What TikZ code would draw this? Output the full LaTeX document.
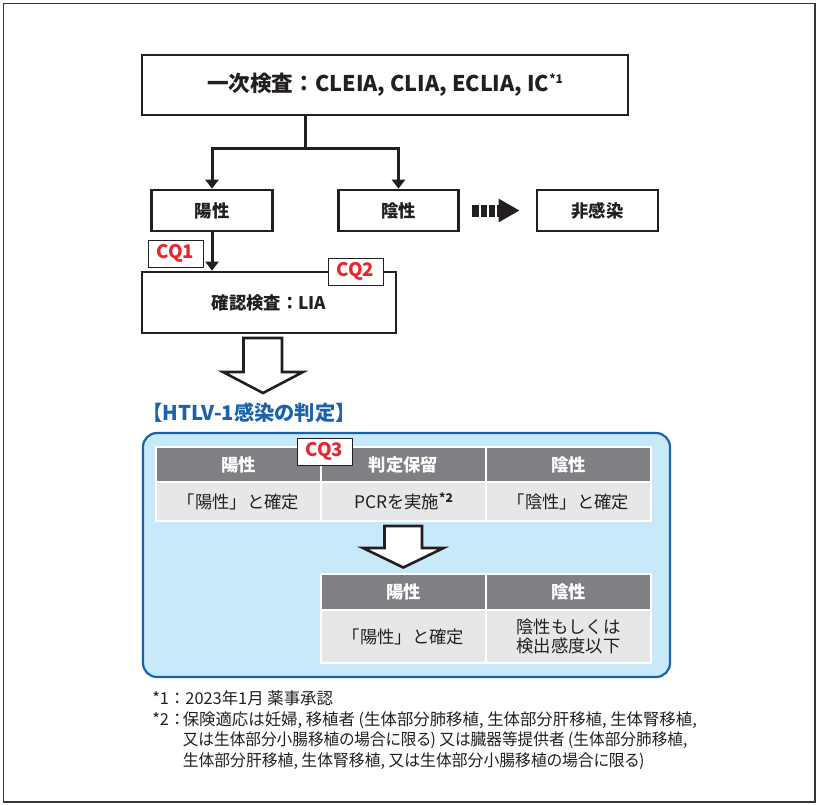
\documentclass[tikz,border=0pt]{standalone}
\usepackage{fontspec}
\setmainfont{Noto Sans CJK JP}
\newfontfamily\jpprop[RawFeature=+palt]{Noto Sans CJK JP}
\usetikzlibrary{arrows.meta}
\definecolor{cqred}{HTML}{E8272D}
\definecolor{ttlblue}{HTML}{1B62AE}
\definecolor{pnlfill}{HTML}{C7E9F9}
\definecolor{hdr}{HTML}{7E8083}
\definecolor{bodyc}{HTML}{E6E7E8}
\definecolor{txt}{HTML}{231F20}
\newdimen\px \px=0.75pt
\newcommand{\supmark}[1]{\raisebox{0.38em}{\fontsize{9}{9}\selectfont\bfseries #1}}
\begin{document}
\begin{tikzpicture}[x=0.75pt,y=-0.75pt,
  box/.style={draw=txt, line width=2.6\px, fill=white, inner sep=0pt, text=txt,
    font=\fontsize{13}{15}\selectfont\bfseries},
  cq/.style={draw=txt, line width=1\px, fill=white, minimum width=55\px, minimum height=27\px,
    inner sep=0pt, text=cqred, font=\fontsize{14}{16}\selectfont\bfseries},
  conn/.style={line width=3\px, draw=txt, -{Triangle[length=6.75pt,width=9.75pt]}},
  dasharrow/.style={line width=12\px, draw=txt, dash pattern=on 4.9pt off 1.3pt,
    -{Triangle[length=15.75pt,width=16.5pt]}},
  hollow/.style={draw=txt, line width=2.6\px, fill=white, line join=miter},
  cellh/.style={fill=hdr, draw=white, line width=2\px, minimum width=165\px, inner sep=0pt,
    text=white, font=\fontsize{13}{15}\selectfont\bfseries},
  cellb/.style={fill=bodyc, draw=white, line width=2\px, minimum width=165\px, inner sep=0pt,
    text=txt, font=\fontsize{13}{15}\selectfont, align=center},
  fn/.style={inner sep=0pt, text=txt, font=\fontsize{12.3}{14}\selectfont},
  fnp/.style={inner sep=0pt, text=txt, font=\jpprop\fontsize{12.3}{14}\selectfont}
]
\useasboundingbox (0,0) rectangle (821,804);
% outer frame
\draw[line width=1.4\px, draw=txt!90] (3.5,3.5) rectangle (815,802);

% top part
\node[box, minimum width=486\px, minimum height=60\px, font=\fontsize{16.2}{18}\selectfont\bfseries]
  (top) at (385,85) {一次検査：CLEIA, CLIA, ECLIA, IC\supmark{*1}};
\node[box, minimum width=121\px, minimum height=41\px] (pos) at (212,210.5) {陽性};
\node[box, minimum width=120\px, minimum height=41\px] (neg) at (398.5,210.5) {陰性};
\node[box, minimum width=121\px, minimum height=41\px] (non) at (597.5,210.5) {非感染};
\node[box, minimum width=254\px, minimum height=61\px] (kak) at (269,302.5) {確認検査：LIA};

\coordinate (j) at (305.5,148);
\draw[line width=3\px, draw=txt] (j |- top.south) -- (j);
\draw[conn] (j) -| (pos.north);
\draw[conn] (j) -| (neg.north);
\draw[conn] (pos.south) -- (pos.south |- kak.north);
\draw[dasharrow, shorten <=12.5\px, shorten >=16\px] (neg.east) -- (non.west);

\node[cq] (cq1) at (175.5,253.5) {CQ1};
\node[cq] (cq2) at (355.5,271.5) {CQ2};

% hollow arrow 1
\draw[hollow] (243.5,338) -- (282,338) -- (282,372) -- (303,372) -- (263,393)
  -- (223,372) -- (243.5,372) -- cycle;

% title
\node[anchor=west, inner sep=0pt, text=ttlblue, font=\fontsize{15.2}{17}\selectfont\bfseries]
  (ttl) at (142,413) {【HTLV-1感染の判定】};

% panel
\draw[draw=ttlblue, line width=2.2\px, fill=pnlfill, rounded corners=14\px] (143,433) rectangle (670,677);

% table 1
\node[cellh, minimum height=35\px] (h11) at (238.5,464.5) {陽性};
\node[cellh, minimum height=35\px] (h12) at (403.5,464.5) {判定保留};
\node[cellh, minimum height=35\px] (h13) at (568.5,464.5) {陰性};
\node[cellb, minimum height=39\px] (b11) at (238.5,501.5) {「陽性」と確定};
\node[cellb, minimum height=39\px] (b12) at (403.5,501.5) {PCRを実施\supmark{*2}};
\node[cellb, minimum height=39\px] (b13) at (568.5,501.5) {「陰性」と確定};
\node[cq] (cq3) at (324.5,451.5) {CQ3};

% hollow arrow 2
\draw[hollow] (384.5,526) -- (422,526) -- (422,548) -- (443.5,548) -- (403.3,567.5)
  -- (363,548) -- (384.5,548) -- cycle;

% table 2
\node[cellh, minimum height=36\px] (h21) at (403.5,592) {陽性};
\node[cellh, minimum height=36\px] (h22) at (568.5,592) {陰性};
\node[cellb, minimum height=53\px] (b21) at (403.5,636.5) {「陽性」と確定};
\node[cellb, minimum height=53\px, font=\fontsize{13}{14.6}\selectfont] (b22) at (568.5,636.5) {陰性もしくは\\検出感度以下};

% footnotes
\node[fn, anchor=base west] (fn1) at (152,704) {*1：2023年1月 薬事承認};
\node[fn, anchor=base west] (fn2l) at (152,725) {*2：};
\node[fnp, anchor=base west] (fn2) at (182.5,725) {保険適応は妊婦, 移植者 (生体部分肺移植, 生体部分肝移植, 生体腎移植,};
\node[fnp, anchor=base west, yshift=-15.5pt] (fn3) at (fn2.base west) {\scalebox{0.955}[1]{又は生体部分小腸移植の場合に限る) 又は臓器等提供者 (生体部分肺移植,}};
\node[fnp, anchor=base west, yshift=-15.5pt] (fn4) at (fn3.base west) {\scalebox{0.965}[1]{生体部分肝移植, 生体腎移植, 又は生体部分小腸移植の場合に限る)}};
\end{tikzpicture}
\end{document}
